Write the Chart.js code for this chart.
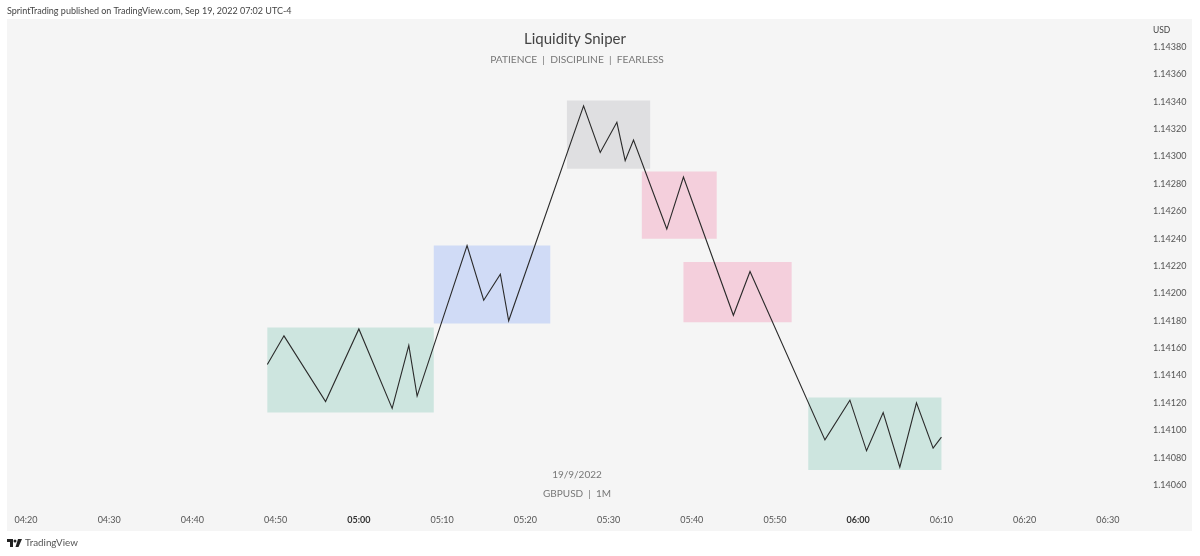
<!DOCTYPE html>
<html lang="en">
<head>
<meta charset="UTF-8" />
<title>Liquidity Sniper</title>
<script src="https://cdn.jsdelivr.net/npm/chart.js@4.4.1/dist/chart.umd.min.js"></script>
<style>
*{box-sizing:border-box}
html,body{margin:0;padding:0;background:#fff;overflow:hidden}
body{width:1200px;height:556px;position:relative;font-family:Lato,sans-serif;color:#555}
#panel{position:absolute;left:7px;top:19px;width:1185px;height:512px;background:#f5f5f5}
#chart{position:absolute;left:0;top:0}
.txt{position:absolute;white-space:nowrap;line-height:1}
.mid{transform:translateX(-50%)}
</style>
</head>
<body>
<div id="panel"></div>
<canvas id="chart" width="1200" height="556"></canvas>

<div class="txt" style="left:7px;top:6px;font-size:9px;color:#444">SprintTrading published on TradingView.com, Sep 19, 2022 07:02 UTC-4</div>
<div class="txt mid" style="left:575px;top:31px;font-size:15px;color:#444">Liquidity Sniper</div>
<div class="txt mid" style="left:577px;top:54px;font-size:10.2px;color:#777">PATIENCE &nbsp;|&nbsp; DISCIPLINE &nbsp;|&nbsp; FEARLESS</div>
<div class="txt mid" style="left:577px;top:469px;font-size:10px;color:#777">19/9/2022</div>
<div class="txt mid" style="left:577px;top:488px;font-size:10px;color:#777">GBPUSD &nbsp;|&nbsp; 1M</div>
<div class="txt" style="left:1153px;top:26px;font-size:8.5px;color:#444">USD</div>
<svg class="txt" style="left:7px;top:539px" width="15" height="9" viewBox="0 0 15 9">
  <path d="M0 0H6V8H3V3H0Z" fill="#222"/><circle cx="8" cy="2" r="1.5" fill="#222"/><path d="M11 0H15L11.5 8H8.5Z" fill="#222"/>
</svg>
<div class="txt" style="left:25px;top:538px;font-size:9.8px;color:#555">TradingView</div>

<script>
/* minutes counted from 04:20 */
const timeLabels=['04:20','04:30','04:40','04:50','05:00','05:10','05:20','05:30','05:40','05:50','06:00','06:10','06:20','06:30'];
const boldLabels=['05:00','06:00'];

const minutes=[29,31,36,40,44,46,47,53,55,57,58,67,69,71,72,73,77,79,85,87,96,99,101,103,105,107,109,110];
const prices=[1.14148,1.14169,1.14121,1.14174,1.14116,1.14162,1.14125,1.14235,1.14195,1.14214,1.14180,
  1.14337,1.14303,1.14325,1.14297,1.14312,1.14247,1.14285,1.14184,1.14216,
  1.14093,1.14122,1.14085,1.14113,1.14073,1.14120,1.14087,1.14095];

/* shaded zones */
const zoneStart=[29,49,65,74,79,94];
const zoneEnd=[49,63,75,83,92,110];
const zoneTop=[1.14175,1.14235,1.14341,1.14289,1.14223,1.14124];
const zoneBottom=[1.14113,1.14178,1.14291,1.14240,1.14179,1.14071];
const zoneColors=['#cde5df','#d0dbf6','#dfdfe1','#f4cfdc','#f4cfdc','#cde5df'];

const zones=zoneStart.map((s,i)=>({
  type:'scatter',
  showLine:true,
  data:[
    {x:s,y:zoneBottom[i]},
    {x:zoneEnd[i],y:zoneBottom[i]},
    {x:zoneEnd[i],y:zoneTop[i]},
    {x:s,y:zoneTop[i]},
    {x:s,y:zoneBottom[i]}
  ],
  fill:'shape',
  backgroundColor:zoneColors[i],
  borderWidth:0,
  pointRadius:0,
  order:2
}));

const isBold=ctx=>ctx.tick&&boldLabels.includes(timeLabels[ctx.tick.value/10]);

new Chart(document.getElementById('chart').getContext('2d'),{
  type:'scatter',
  data:{
    datasets:[
      {
        showLine:true,
        data:minutes.map((m,i)=>({x:m,y:prices[i]})),
        borderColor:'#2a2a2a',
        borderWidth:1.1,
        pointRadius:0,
        tension:0,
        order:1
      },
      ...zones
    ]
  },
  options:{
    responsive:false,
    animation:false,
    layout:{padding:{left:7,right:8,top:21,bottom:25}},
    plugins:{legend:{display:false},title:{display:false},tooltip:{enabled:false}},
    scales:{
      x:{
        type:'linear',
        min:-2.28,
        max:134.7,
        grid:{display:false,drawTicks:false},
        border:{display:false},
        afterFit:s=>{s.height=19},
        ticks:{
          stepSize:10,
          includeBounds:false,
          maxRotation:0,
          autoSkip:false,
          padding:3,
          color:ctx=>isBold(ctx)?'#333':'#555',
          font:ctx=>({family:'Lato,sans-serif',size:9,weight:isBold(ctx)?'bold':'normal'}),
          callback:v=>timeLabels[v/10]
        }
      },
      y:{
        position:'right',
        min:1.140403,
        max:1.14399,
        grid:{display:false,drawTicks:false},
        border:{display:false},
        afterFit:s=>{s.width=45},
        ticks:{
          stepSize:0.0002,
          includeBounds:false,
          padding:6,
          color:'#555',
          font:{family:'Lato,sans-serif',size:9},
          callback:v=>v.toFixed(5)
        }
      }
    }
  }
});
</script>
</body>
</html>
